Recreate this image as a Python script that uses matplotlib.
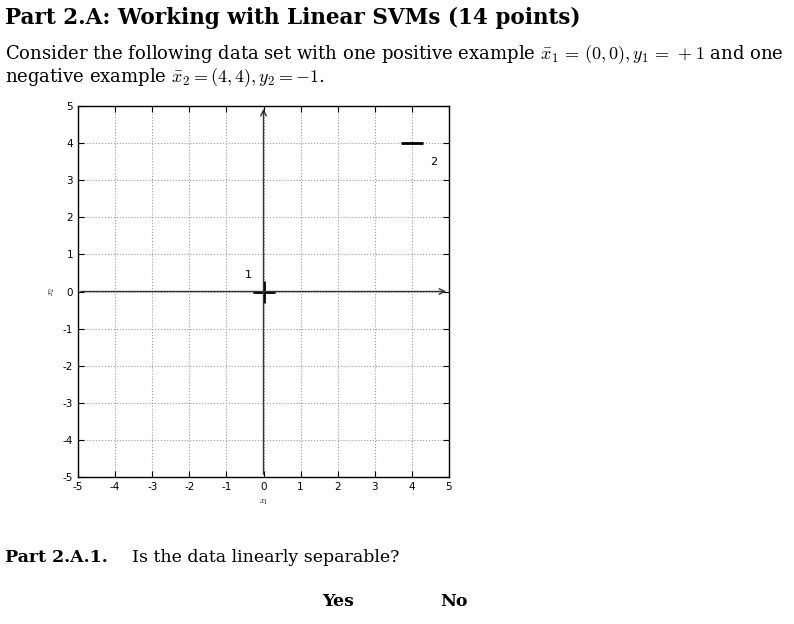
import matplotlib
matplotlib.use('Agg')
import matplotlib.pyplot as plt

# ===== DONNÉES =====
point_x = [0, 4]
point_y = [0, 4]
point_labels = ['1', '2']
point_markers = ['+', '_']
ticks = [-5, -4, -3, -2, -1, 0, 1, 2, 3, 4, 5]

plt.rcParams['mathtext.fontset'] = 'cm'
plt.rcParams['axes.unicode_minus'] = False
serif = 'DejaVu Serif'

fig = plt.figure(figsize=(7.94, 6.24), dpi=100)
W, H = 794, 624

# texte de la page
fig.text(5 / W, 1 - 18 / H, 'Part 2.A: Working with Linear SVMs (14 points)',
         fontsize=15.5, fontweight='bold', family=serif, va='center')
fig.text(5 / W, 1 - 55 / H,
         r'Consider the following data set with one positive example $\bar{x}_1\,=\,(0,0), y_1\,=\,+1$ and one',
         fontsize=13, family=serif, va='center')
fig.text(5 / W, 1 - 78 / H,
         r'negative example $\bar{x}_2 = (4,4), y_2 = -1$.',
         fontsize=13, family=serif, va='center')
fig.text(5 / W, 1 - 557 / H, 'Part 2.A.1.', fontsize=12.5, fontweight='bold', family=serif, va='center')
fig.text(132 / W, 1 - 557 / H, 'Is the data linearly separable?', fontsize=12.5, family=serif, va='center')
fig.text(338 / W, 1 - 602 / H, 'Yes', fontsize=12.5, fontweight='bold', family=serif, va='center', ha='center')
fig.text(454 / W, 1 - 602 / H, 'No', fontsize=12.5, fontweight='bold', family=serif, va='center', ha='center')

# ===== GRAPHIQUE =====
ax = fig.add_axes([78 / W, 1 - 477 / H, (449 - 78) / W, (477 - 106) / H])
ax.set_xlim(-5, 5)
ax.set_ylim(-5, 5)
ax.set_xticks(ticks)
ax.set_yticks(ticks)
ax.tick_params(labelsize=7.5, direction='in', length=4, top=True, right=True)
ax.grid(True, linestyle=':', color='#999999', linewidth=0.8)
for s in ax.spines.values():
    s.set_linewidth(1)
ax.annotate('', xy=(5, 0), xytext=(-5, 0), arrowprops=dict(arrowstyle='->', color='#333333', lw=1))
ax.annotate('', xy=(0, 5), xytext=(0, -5), arrowprops=dict(arrowstyle='->', color='#333333', lw=1))
for x, y, lab, m in zip(point_x, point_y, point_labels, point_markers):
    ax.plot(x, y, marker=m, color='black', markersize=16, markeredgewidth=2)
ax.text(-0.4, 0.45, point_labels[0], fontsize=8, ha='center', va='center')
ax.text(4.6, 3.5, point_labels[1], fontsize=8, ha='center', va='center')
ax.set_xlabel(r'$x_1$', fontsize=6)
ax.set_ylabel(r'$x_2$', fontsize=6)

plt.savefig('out.png', dpi=100)
